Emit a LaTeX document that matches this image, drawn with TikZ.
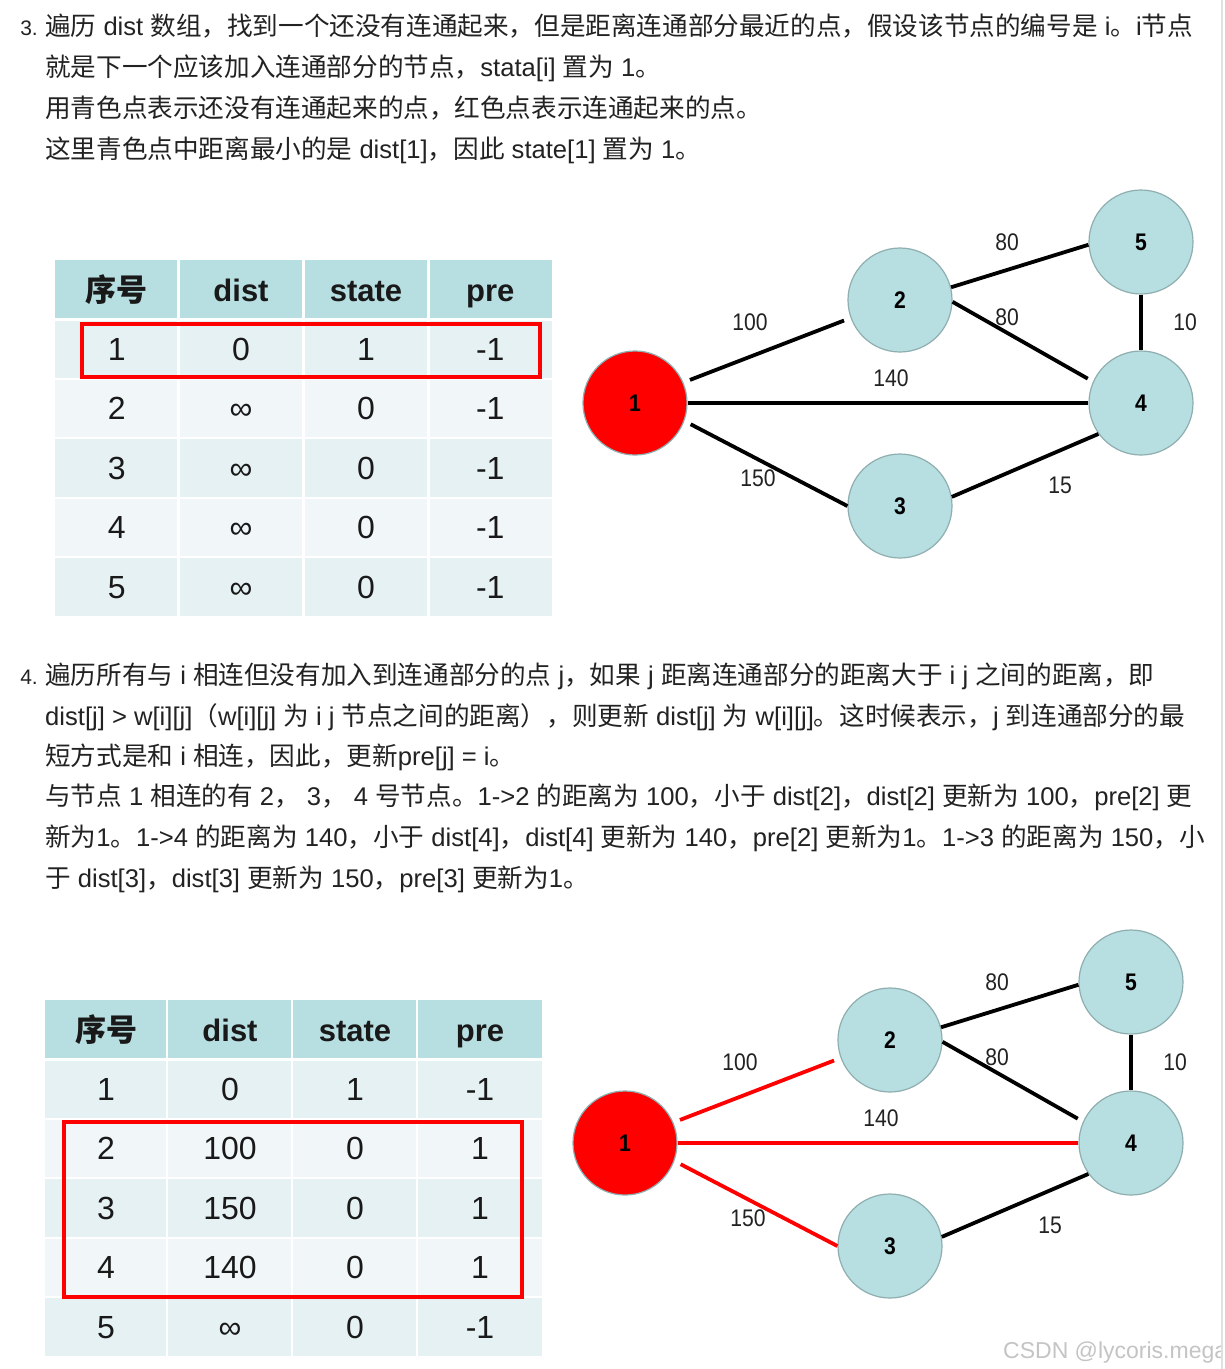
\documentclass[tikz,border=0pt]{standalone}
\usepackage{fontspec}
\setmainfont{Liberation Sans}
\newfontfamily\cjk{Noto Sans CJK SC}
\newfontfamily\narrowf[FakeStretch=0.88]{Liberation Sans}
\XeTeXinterchartokenstate=1
\newXeTeXintercharclass\CJKcls
\newcount\cjkcnt
\def\setcjkrange#1#2{\cjkcnt=#1\relax\loop\XeTeXcharclass\cjkcnt=\CJKcls\advance\cjkcnt by 1\relax\ifnum\cjkcnt<#2\relax\repeat}
\setcjkrange{"3000}{"3040}
\setcjkrange{"4E00}{"A000}
\setcjkrange{"FF00}{"FFF0}
\XeTeXinterchartoks 0 \CJKcls = {\cjk}
\XeTeXinterchartoks 4095 \CJKcls = {\cjk}
\XeTeXinterchartoks \CJKcls 0 = {\rmfamily}
\XeTeXinterchartoks \CJKcls 4095 = {\rmfamily}
\definecolor{hdr}{HTML}{B7DEE1}
\definecolor{rowa}{HTML}{E6F1F3}
\definecolor{rowb}{HTML}{F1F7F9}
\definecolor{nodefill}{HTML}{B7DEE0}
\definecolor{nodeedge}{HTML}{8FAEB0}
\definecolor{txtc}{HTML}{222222}
\definecolor{wmc}{HTML}{C4C4C4}
\definecolor{redc}{HTML}{FF0000}
\newcommand\graphpic[2]{%
  \node[gnode,fill=redc] (#1a) at (635,403) {1};
  \node[gnode] (#1b) at (900,300) {2};
  \node[gnode] (#1c) at (900,506) {3};
  \node[gnode] (#1d) at (1141,403) {4};
  \node[gnode] (#1e) at (1141,242) {5};
  \draw[gedge,#2,shorten <=7pt,shorten >=7pt] (#1a.23) -- (#1b.200);
  \draw[gedge,#2] (#1a.east) -- (#1d.west);
  \draw[gedge,#2,shorten <=7pt] (#1a.-20) -- (#1c.west);
  \draw[gedge] (#1b.14) -- (#1e.183);
  \draw[gedge,shorten >=6pt] (#1b.-2) -- (#1d.156);
  \draw[gedge] (#1e.south) -- (#1d.north);
  \draw[gedge] (#1c.10) -- (#1d.216);
  \node[elab] (#1la) at (750,322) {100};
  \node[elab] (#1lb) at (1007,242) {80};
  \node[elab] (#1lc) at (1007,317) {80};
  \node[elab] (#1ld) at (1185,322) {10};
  \node[elab] (#1le) at (891,378) {140};
  \node[elab] (#1lf) at (758,478) {150};
  \node[elab] (#1lg) at (1060,485) {15};
}
\begin{document}
\begin{tikzpicture}[x=1pt,y=-1pt,
  txt/.style={anchor=base west,inner sep=0pt,text=txtc,font=\fontsize{25.6}{30}\selectfont},
  num/.style={anchor=base east,inner sep=0pt,text=txtc,font=\fontsize{21}{25}\selectfont},
  gnode/.style={circle,minimum size=104pt,inner sep=0pt,draw=nodeedge,line width=1.2pt,fill=nodefill,text=black,font=\narrowf\bfseries\fontsize{24}{24}\selectfont},
  gedge/.style={line width=3.8pt,black},
  elab/.style={inner sep=0pt,text=txtc,font=\narrowf\fontsize{24}{24}\selectfont},
  hcell/.style={anchor=base,inner sep=0pt,text=black!90,font=\bfseries\fontsize{31}{31}\selectfont},
  cell/.style={anchor=base,inner sep=0pt,text=black!90,font=\fontsize{32}{32}\selectfont},
  redbox/.style={draw=redc,line width=3.8pt}]
\useasboundingbox (0,0) rectangle (1225,1369);
\fill[white] (0,0) rectangle (1225,1369);

% paragraph 3
\node[num] (n3) at (38,35) {3.};
\node[txt] (p1a) at (45,35) {遍历 dist 数组，找到一个还没有连通起来，但是距离连通部分最近的点，假设该节点的编号是 i。i节点};
\node[txt] (p1b) at (45,76) {就是下一个应该加入连通部分的节点，stata[i] 置为 1。};
\node[txt] (p1c) at (45,117) {用青色点表示还没有连通起来的点，红色点表示连通起来的点。};
\node[txt] (p1d) at (45,158) {这里青色点中距离最小的是 dist[1]，因此 state[1] 置为 1。};

% table 1
\begin{scope}[shift={(55,260)}]
  \fill[hdr] (0,0) rectangle (497,58);
  \fill[rowa] (0,59) rectangle (497,118.5);
  \fill[rowb] (0,118.5) rectangle (497,178);
  \fill[rowa] (0,178) rectangle (497,237.5);
  \fill[rowb] (0,237.5) rectangle (497,297);
  \fill[rowa] (0,297) rectangle (497,356);
  \foreach \xx in {123.5,248.5,373.5} \draw[white,line width=2.5pt] (\xx,0) -- (\xx,356);
  \foreach \yy in {118.5,178,237.5,297} \draw[white,line width=2pt] (0,\yy) -- (497,\yy);
  \draw[white,line width=3pt] (0,59.5) -- (497,59.5);
  \node[hcell] (ah1) at (61.75,41) {序号};
  \node[hcell] (ah2) at (186,41) {dist};
  \node[hcell] (ah3) at (311,41) {state};
  \node[hcell] (ah4) at (435.25,41) {pre};
  \foreach \r/\yc/\a/\b/\c/\d in {1/88.75/1/0/1/-1,2/148.25/2/∞/0/-1,3/207.75/3/∞/0/-1,4/267.25/4/∞/0/-1,5/326.5/5/∞/0/-1}{
    \node[cell] (ar\r c1) at (61.75,\yc+11.5) {\a};
    \node[cell] (ar\r c2) at (186,\yc+11.5) {\b};
    \node[cell] (ar\r c3) at (311,\yc+11.5) {\c};
    \node[cell] (ar\r c4) at (435.25,\yc+11.5) {\d};
  }
  \draw[redbox] (27,64) rectangle (485,117);
\end{scope}

% graph 1
\graphpic{g}{black}

% paragraph 4
\node[num] (n4) at (38,684) {4.};
\node[txt] (p2a) at (45,684) {遍历所有与 i 相连但没有加入到连通部分的点 j，如果 j 距离连通部分的距离大于 i j 之间的距离，即};
\node[txt] (p2b) at (45,725) {dist[j] > w[i][j]（w[i][j] 为 i j 节点之间的距离），则更新 dist[j] 为 w[i][j]。这时候表示，j 到连通部分的最};
\node[txt] (p2c) at (45,765) {短方式是和 i 相连，因此，更新pre[j] = i。};
\node[txt] (p2d) at (45,805) {与节点 1 相连的有 2， 3， 4 号节点。1->2 的距离为 100，小于 dist[2]，dist[2] 更新为 100，pre[2] 更};
\node[txt] (p2e) at (45,846) {新为1。1->4 的距离为 140，小于 dist[4]，dist[4] 更新为 140，pre[2] 更新为1。1->3 的距离为 150，小};
\node[txt] (p2f) at (45,887) {于 dist[3]，dist[3] 更新为 150，pre[3] 更新为1。};

% table 2
\begin{scope}[shift={(45,1000)}]
  \fill[hdr] (0,0) rectangle (497,58);
  \fill[rowa] (0,59) rectangle (497,118.5);
  \fill[rowb] (0,118.5) rectangle (497,178);
  \fill[rowa] (0,178) rectangle (497,237.5);
  \fill[rowb] (0,237.5) rectangle (497,297);
  \fill[rowa] (0,297) rectangle (497,356);
  \foreach \xx in {122,247,372} \draw[white,line width=2.5pt] (\xx,0) -- (\xx,356);
  \foreach \yy in {118.5,178,237.5,297} \draw[white,line width=2pt] (0,\yy) -- (497,\yy);
  \draw[white,line width=3pt] (0,59.5) -- (497,59.5);
  \node[hcell] (bh1) at (61,41) {序号};
  \node[hcell] (bh2) at (185,41) {dist};
  \node[hcell] (bh3) at (310,41) {state};
  \node[hcell] (bh4) at (435,41) {pre};
  \foreach \r/\yc/\a/\b/\c/\d in {1/88.75/1/0/1/-1,2/148.25/2/100/0/1,3/207.75/3/150/0/1,4/267.25/4/140/0/1,5/326.5/5/∞/0/-1}{
    \node[cell] (br\r c1) at (61,\yc+11.5) {\a};
    \node[cell] (br\r c2) at (185,\yc+11.5) {\b};
    \node[cell] (br\r c3) at (310,\yc+11.5) {\c};
    \node[cell] (br\r c4) at (435,\yc+11.5) {\d};
  }
  \draw[redbox] (19,122) rectangle (477,297);
\end{scope}

% graph 2
\begin{scope}[shift={(-10,740)}]
  \graphpic{h}{redc}
\end{scope}

\node[anchor=base west,inner sep=0pt,text=wmc,font=\fontsize{23}{23}\selectfont] (wm) at (1003,1358) {CSDN @lycoris.mega};
\fill[white] (1221,0) rectangle (1225,1369);
\draw[line width=2pt,black!12] (1222,0) -- (1222,1369);
\end{tikzpicture}
\end{document}
